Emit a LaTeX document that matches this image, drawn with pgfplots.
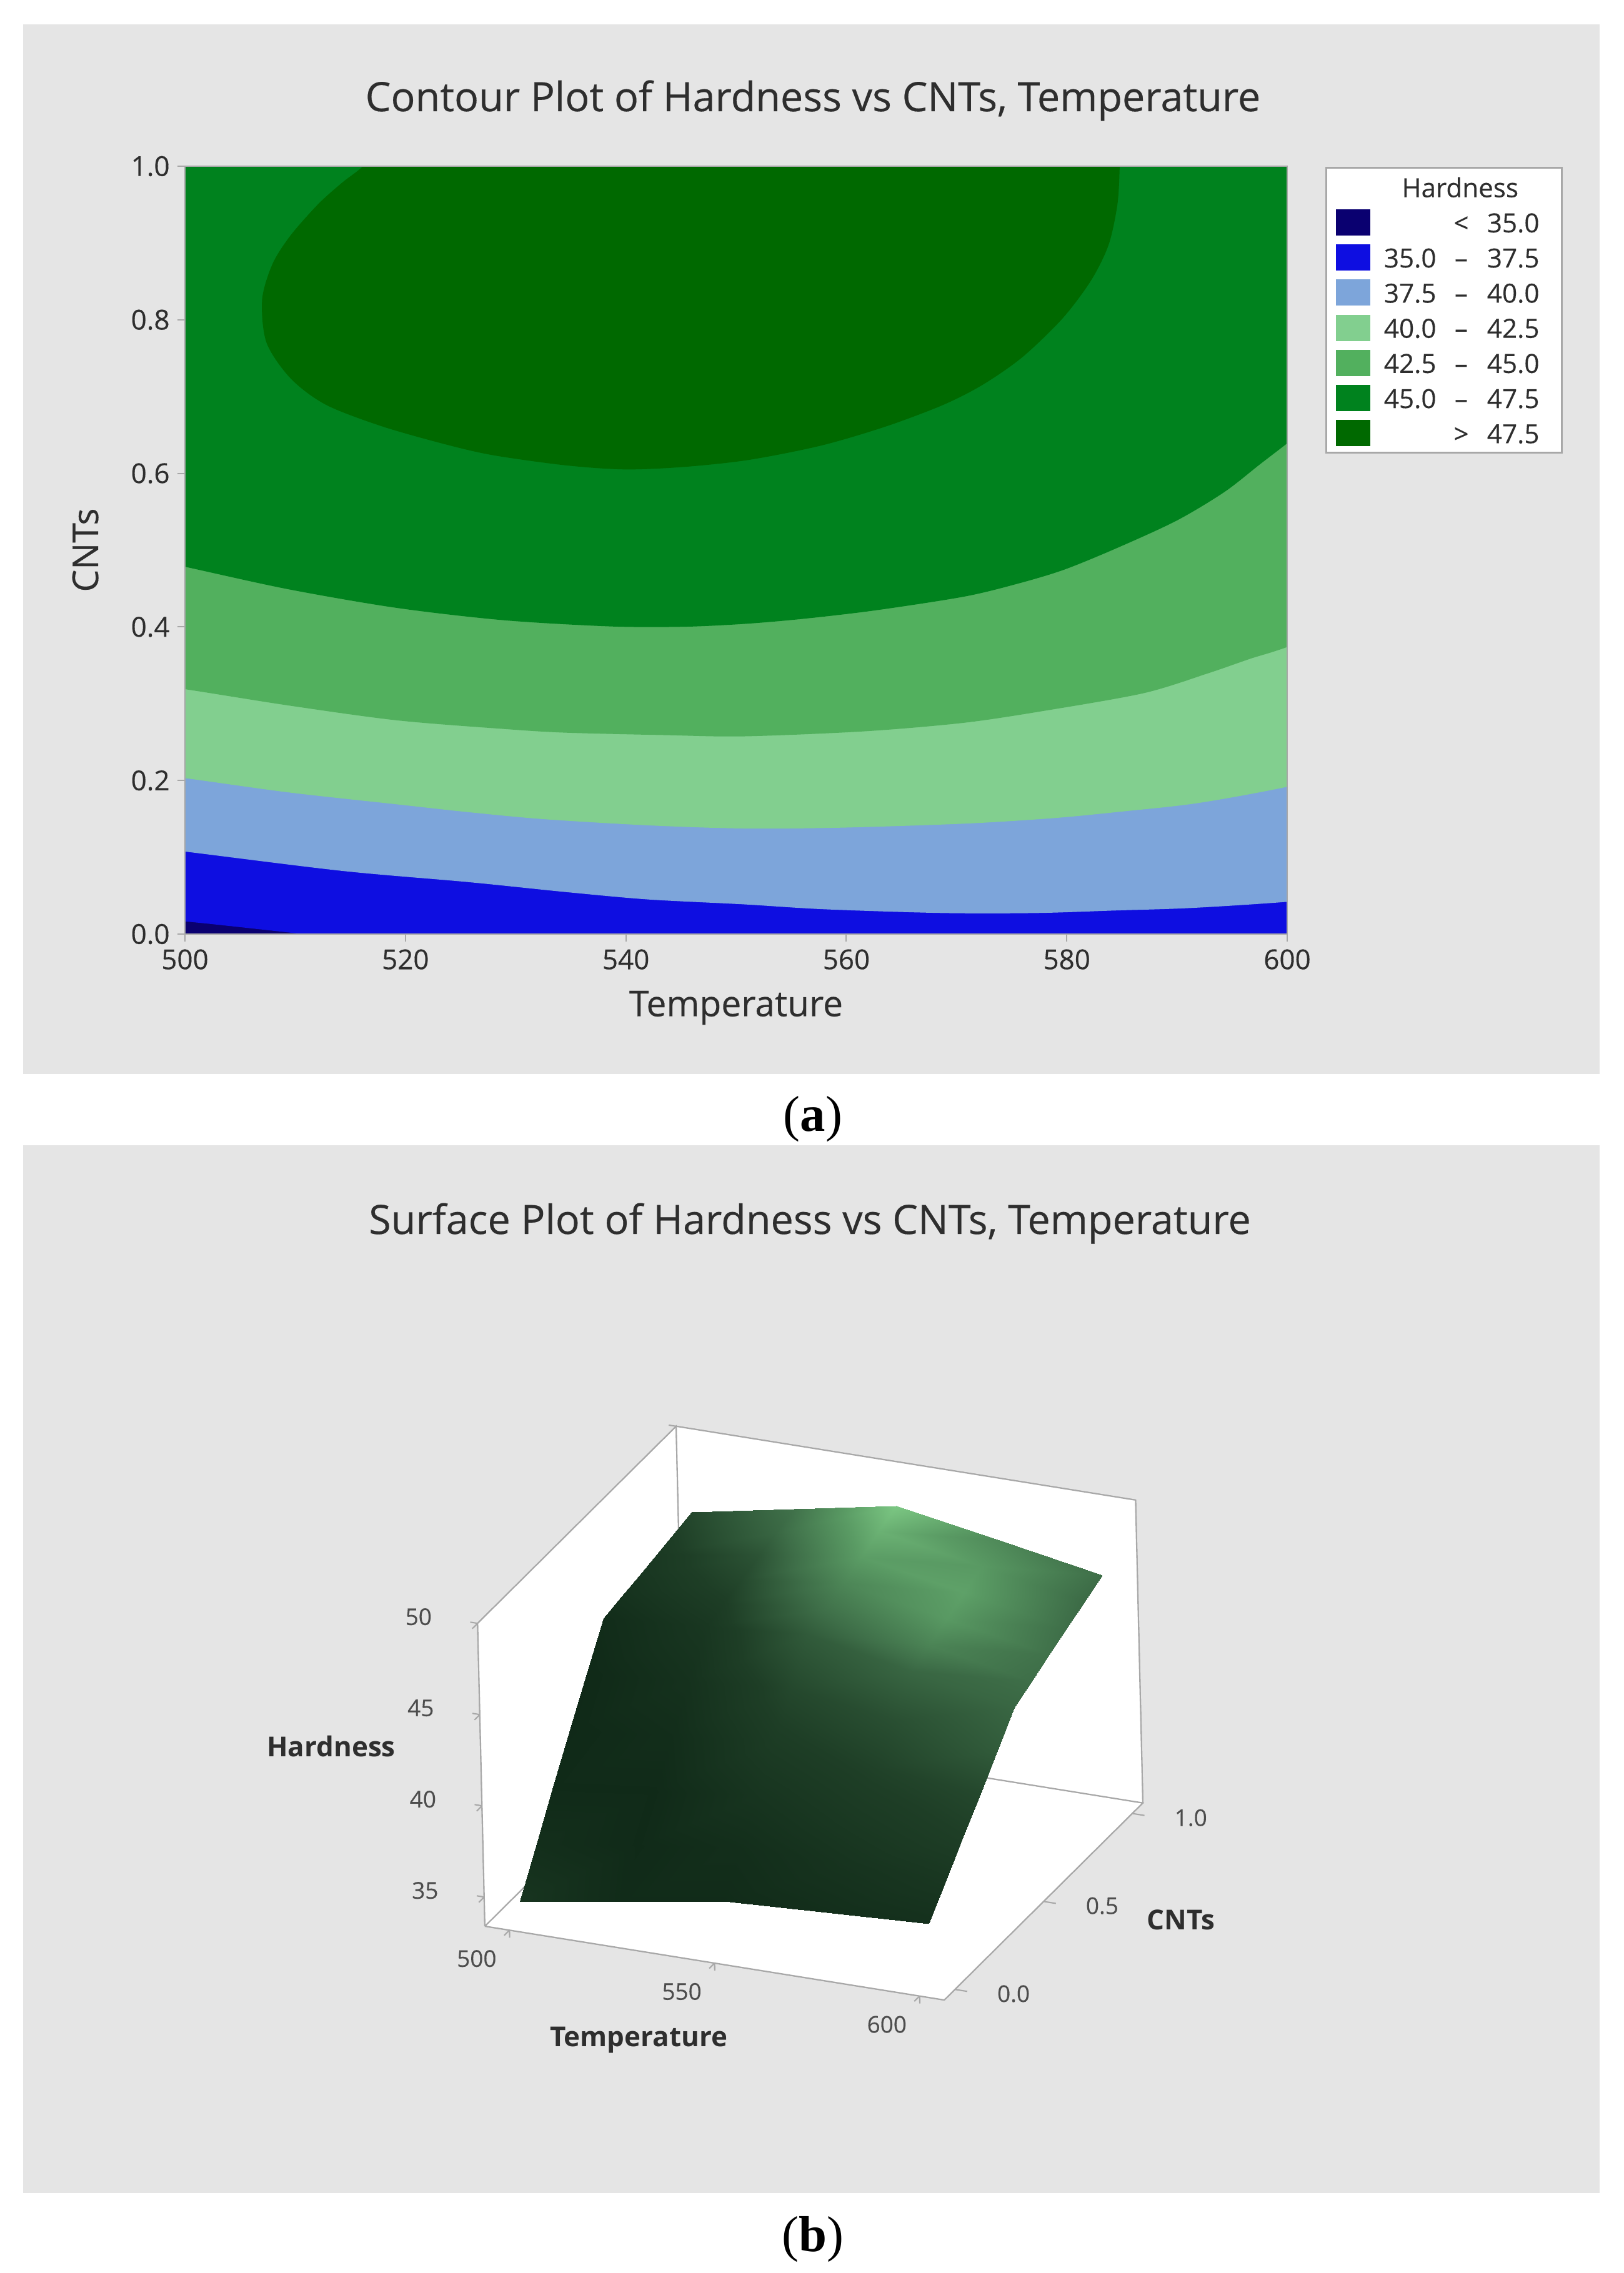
\documentclass[border=0pt]{standalone}
\usepackage{fontspec}
\setmainfont{Open Sans}[FakeBold=0.3]
\newfontfamily\boldlab{Open Sans Bold}
\newfontfamily\capfont{Liberation Serif}
\usepackage{pgfplots}
\pgfplotsset{compat=1.18}

\definecolor{panel}{HTML}{E5E5E5}
\definecolor{axgray}{HTML}{A8A8A8}
\definecolor{txt}{HTML}{2E2E2E}
\definecolor{lvlA}{HTML}{0A0070}
\definecolor{lvlB}{HTML}{0E0EE1}
\definecolor{lvlC}{HTML}{7DA5DA}
\definecolor{lvlD}{HTML}{82CF8F}
\definecolor{lvlE}{HTML}{52B05E}
\definecolor{lvlF}{HTML}{00821E}
\definecolor{lvlG}{HTML}{006900}

\newcommand{\legrow}[2]{\hspace*{0.2cm}\makebox[0.85cm][r]{#1}\makebox[0.8cm][c]{--}\makebox[0.85cm][r]{#2}\hspace*{0.2cm}}
\newcommand{\legone}[2]{\hspace*{0.2cm}\makebox[0.85cm][r]{}\makebox[0.8cm][c]{#1}\makebox[0.85cm][r]{#2}\hspace*{0.2cm}}

\begin{document}
\begin{tikzpicture}
\path[use as bounding box] (0,0) rectangle (25.98,-36.38);
\fill[panel] (0.37,-0.39) rectangle (25.60,-17.19);
\fill[panel] (0.37,-18.33) rectangle (25.60,-35.10);
\node[font=\capfont\fontsize{23}{26}\selectfont] at (13.01,-17.91) {(\textbf{a})};
\node[font=\capfont\fontsize{23}{26}\selectfont] at (13.01,-35.84) {(\textbf{b})};

% contour plot
\begin{axis}[
    at={(2.96cm,-14.95cm)}, anchor=south west,
    scale only axis, width=17.64cm, height=12.29cm,
    xmin=500, xmax=600, ymin=0, ymax=1,
    axis on top,
    xtick pos=bottom, ytick pos=left,
    axis line style={draw=axgray, line width=0.8pt},
    tick style={draw=axgray, line width=0.6pt},
    tick align=outside, major tick length=0.12cm,
    xtick={500,520,...,600}, ytick={0,0.2,...,1},
    /pgf/number format/assume math mode=true,
    /pgf/number format/1000 sep={},
    yticklabel style={/pgf/number format/fixed, /pgf/number format/fixed zerofill, /pgf/number format/precision=1},
    ticklabel style={font=\fontsize{12.5}{15}\selectfont, text=txt},
    xlabel={Temperature}, ylabel={CNTs},
    xlabel style={font=\fontsize{16.2}{19}\selectfont, text=txt, yshift=-0.1cm},
    ylabel style={font=\fontsize{16.2}{19}\selectfont, text=txt, yshift=0.28cm},
    title={Contour Plot of Hardness vs CNTs, Temperature},
    title style={at={(0.5697,1)}, font=\fontsize{18.4}{22}\selectfont, text=txt, yshift=0.39cm},
    legend style={at={(1.0346,0.999)}, anchor=north west, draw=axgray, fill=white,
        line width=0.8pt, font=\fontsize{12}{14}\selectfont, text=txt,
        inner xsep=0.16cm, inner ysep=0.07cm, row sep=0.0825cm,
        nodes={inner sep=0pt, text height=0.40cm, text depth=0.08cm}},
    legend cell align=left,
    legend image code/.code={\fill[#1] (0cm,-0.21cm) rectangle (0.55cm,0.21cm);},
]
\addlegendimage{empty legend}\addlegendentry{\hspace*{0.5cm}Hardness}

\addplot[fill=lvlA, draw=none] coordinates {(500,0) (600,0) (600,1) (500,1)};
\addlegendentry{\legone{<}{35.0}}

\addplot[fill=lvlB, draw=none, smooth] coordinates {
    (490,0.03) (500.15,0.0163) (504.5,0.0098) (510.7,0) (518,-0.012) (610,-0.05) (610,1.2) (490,1.2)};
\addlegendentry{\legrow{35.0}{37.5}}

\addplot[fill=lvlC, draw=none, smooth] coordinates {
    (490,0.125) (500.15,0.1072) (514.3,0.0822) (525.7,0.0677) (534.5,0.0548) (542,0.0451) (550.7,0.0387)
    (558,0.0323) (568.75,0.0274) (577.2,0.0274) (584.4,0.0307) (591.2,0.0339) (599.9,0.0419) (610,0.055)
    (620,1.3) (480,1.3)};
\addlegendentry{\legrow{37.5}{40.0}}

\addplot[fill=lvlD, draw=none, smooth] coordinates {
    (490,0.222) (500.15,0.2028) (509.4,0.1845) (519.2,0.169) (525.7,0.1588) (532.5,0.1497) (542,0.1416)
    (550.7,0.1375) (559.3,0.1385) (570.7,0.1438) (578.8,0.151) (585.3,0.16) (591.85,0.1705) (599.9,0.1915)
    (610,0.225) (620,1.3) (480,1.3)};
\addlegendentry{\legrow{40.0}{42.5}}

\addplot[fill=lvlE, draw=none, smooth] coordinates {
    (490,0.34) (500.15,0.3186) (509.4,0.2977) (519.2,0.2784) (528.95,0.2671) (534.5,0.2623) (543.6,0.2591)
    (550.7,0.2575) (561.6,0.264) (570.7,0.2752) (578.2,0.2913) (587,0.3138) (592.8,0.3395) (596.7,0.3588)
    (599.9,0.3733) (610,0.425) (620,1.3) (480,1.3)};
\addlegendentry{\legrow{42.5}{45.0}}

\addplot[fill=lvlF, draw=none, smooth] coordinates {
    (490,0.51) (500.15,0.4779) (509.4,0.449) (519.2,0.4248) (528.95,0.4087) (538.7,0.4006) (545.2,0.4002)
    (550.7,0.4039) (556.06,0.4105) (562.6,0.4215) (570.7,0.4395) (575.6,0.4565) (579.75,0.4745) (584.5,0.5024)
    (589.95,0.5383) (594.3,0.5757) (597.5,0.6115) (599.9,0.638) (610,0.75) (620,1.3) (480,1.3)};
\addlegendentry{\legrow{45.0}{47.5}}

\addplot[fill=lvlG, draw=none, smooth] coordinates {
    (518,1.03) (516.08,0.999) (514.28,0.9788) (512.1,0.9508) (509.6,0.9102) (507.95,0.8729) (507,0.8262)
    (507.4,0.7701) (509.6,0.7234) (512.8,0.6892) (517.9,0.6611) (523.7,0.6375) (528,0.6235) (534.5,0.6105)
    (539.95,0.6051) (545.4,0.6085) (551.2,0.6176) (557.75,0.6363) (563.6,0.6611) (568.8,0.6892) (572.4,0.7156)
    (575.98,0.7514) (579.6,0.8015) (582.2,0.8511) (583.8,0.8978) (584.6,0.9508) (584.8,0.9992) (584.8,1.03)};
\addlegendentry{\legone{>}{47.5}}
\end{axis}

% surface plot
\node[font=\fontsize{18.4}{22}\selectfont, text=txt] at (12.96,-19.58) {Surface Plot of Hardness vs CNTs, Temperature};

\begin{axis}[
    at={(7.93cm,-30.66cm)}, anchor=origin,
    x={(0.06565cm,-0.01055cm)}, y={(2.837cm,2.816cm)}, z={(-0.007cm,0.292cm)},
    xmin=494, xmax=606, ymin=-0.06, ymax=1.06, zmin=33.4, zmax=50,
    clip=false,
    scaled ticks=false,
    axis line style={draw=axgray, line width=0.6pt},
    tick style={draw=axgray, line width=0.6pt},
    ytick style={draw=none},
    tick align=outside, major tick length=0.12cm,
    xtick={500,550,600}, ytick={0,0.5,1}, ztick={35,40,45,50},
    xtick pos=lower, ytick pos=lower, ztick pos=left,
    zticklabel pos=left,
    /pgf/number format/assume math mode=true,
    /pgf/number format/1000 sep={},
    yticklabel style={/pgf/number format/fixed, /pgf/number format/fixed zerofill, /pgf/number format/precision=1},
    ticklabel style={font=\fontsize{10.5}{13}\selectfont, text=txt!85},
    xticklabel style={anchor=center, xshift=-0.44cm, yshift=-0.37cm},
    yticklabel style={anchor=center, xshift=0.82cm, yshift=-0.05cm},
    zticklabel style={anchor=center, xshift=-0.86cm, yshift=0.19cm},
    xlabel={Temperature}, ylabel={CNTs}, zlabel={Hardness},
    label style={font=\boldlab\fontsize{12.5}{15}\selectfont, text=txt},
    xlabel style={at={(axis cs:550.4,-0.497,33.4)}, anchor=center, sloped=false},
    ylabel style={at={(axis cs:639.5,0.5,33.6)}, anchor=center, sloped=false, rotate=0},
    zlabel style={at={(axis cs:494,-0.883,51.2)}, anchor=center, sloped=false, rotate=-90},
    colormap={hard}{rgb255=(12,36,20) rgb255=(30,62,38) rgb255=(62,110,72) rgb255=(90,155,100) rgb255=(128,205,135)},
    point meta min=0, point meta max=1,
]
% walls and floor of the box
\addplot3[fill=white, draw=axgray, line width=0.6pt, forget plot] coordinates {
    (494,-0.06,33.4) (606,-0.06,33.4) (606,1.06,33.4) (494,1.06,33.4) (494,-0.06,33.4)};
\addplot3[fill=white, draw=axgray, line width=0.6pt, forget plot] coordinates {
    (494,-0.06,33.4) (494,1.06,33.4) (494,1.06,50) (494,-0.06,50) (494,-0.06,33.4)};
\addplot3[fill=white, draw=axgray, line width=0.6pt, forget plot] coordinates {
    (494,1.06,33.4) (606,1.06,33.4) (606,1.06,50) (494,1.06,50) (494,1.06,33.4)};
% the CNTs ticks, on the front edge of the floor only
\addplot3[draw=axgray, line width=0.6pt, forget plot] coordinates {(606,0,33.4) (609,0,33.4)};
\addplot3[draw=axgray, line width=0.6pt, forget plot] coordinates {(606,0.5,33.4) (609,0.5,33.4)};
\addplot3[draw=axgray, line width=0.6pt, forget plot] coordinates {(606,1,33.4) (609,1,33.4)};

\addplot3[surf, shader=interp, mesh/rows=11, mesh/cols=5, point meta=explicit, forget plot]
    table[x=x, y=y, z=z, meta=c] {
x y z c
500 0 34.4 .16
525 0 35.3 .07
550 0 36.2 .07
575 0 36.5 .10
600 0 36.8 .12
500 0.1 36.6 .10
525 0.1 37.4 .06
550 0.1 38.2 .10
575 0.1 38.2 .15
600 0.1 38.2 .18
500 0.2 38.75 .06
525 0.2 39.42 .06
550 0.2 40.1 .16
575 0.2 39.85 .21
600 0.2 39.6 .25
500 0.3 40.9 .05
525 0.3 41.5 .09
550 0.3 42.1 .23
575 0.3 41.55 .27
600 0.3 41.0 .30
500 0.4 43.0 .05
525 0.4 43.5 .13
550 0.4 44.0 .30
575 0.4 43.2 .34
600 0.4 42.4 .40
500 0.5 45.1 .08
525 0.5 45.55 .18
550 0.5 46.0 .40
575 0.5 44.9 .46
600 0.5 43.8 .46
500 0.6 45.3 .13
525 0.6 45.87 .24
550 0.6 46.45 .52
575 0.6 45.37 .62
600 0.6 44.29 .50
500 0.7 45.5 .17
525 0.7 46.2 .30
550 0.7 46.9 .63
575 0.7 45.84 .74
600 0.7 44.78 .52
500 0.8 45.7 .20
525 0.8 46.52 .36
550 0.8 47.35 .76
575 0.8 46.31 .78
600 0.8 45.27 .50
500 0.9 45.9 .25
525 0.9 46.85 .46
550 0.9 47.8 .86
575 0.9 46.78 .74
600 0.9 45.76 .48
500 1 46.1 .30
525 1 47.17 .52
550 1 48.25 .97
575 1 47.25 .65
600 1 46.25 .50
};
\end{axis}
\end{tikzpicture}
\end{document}
